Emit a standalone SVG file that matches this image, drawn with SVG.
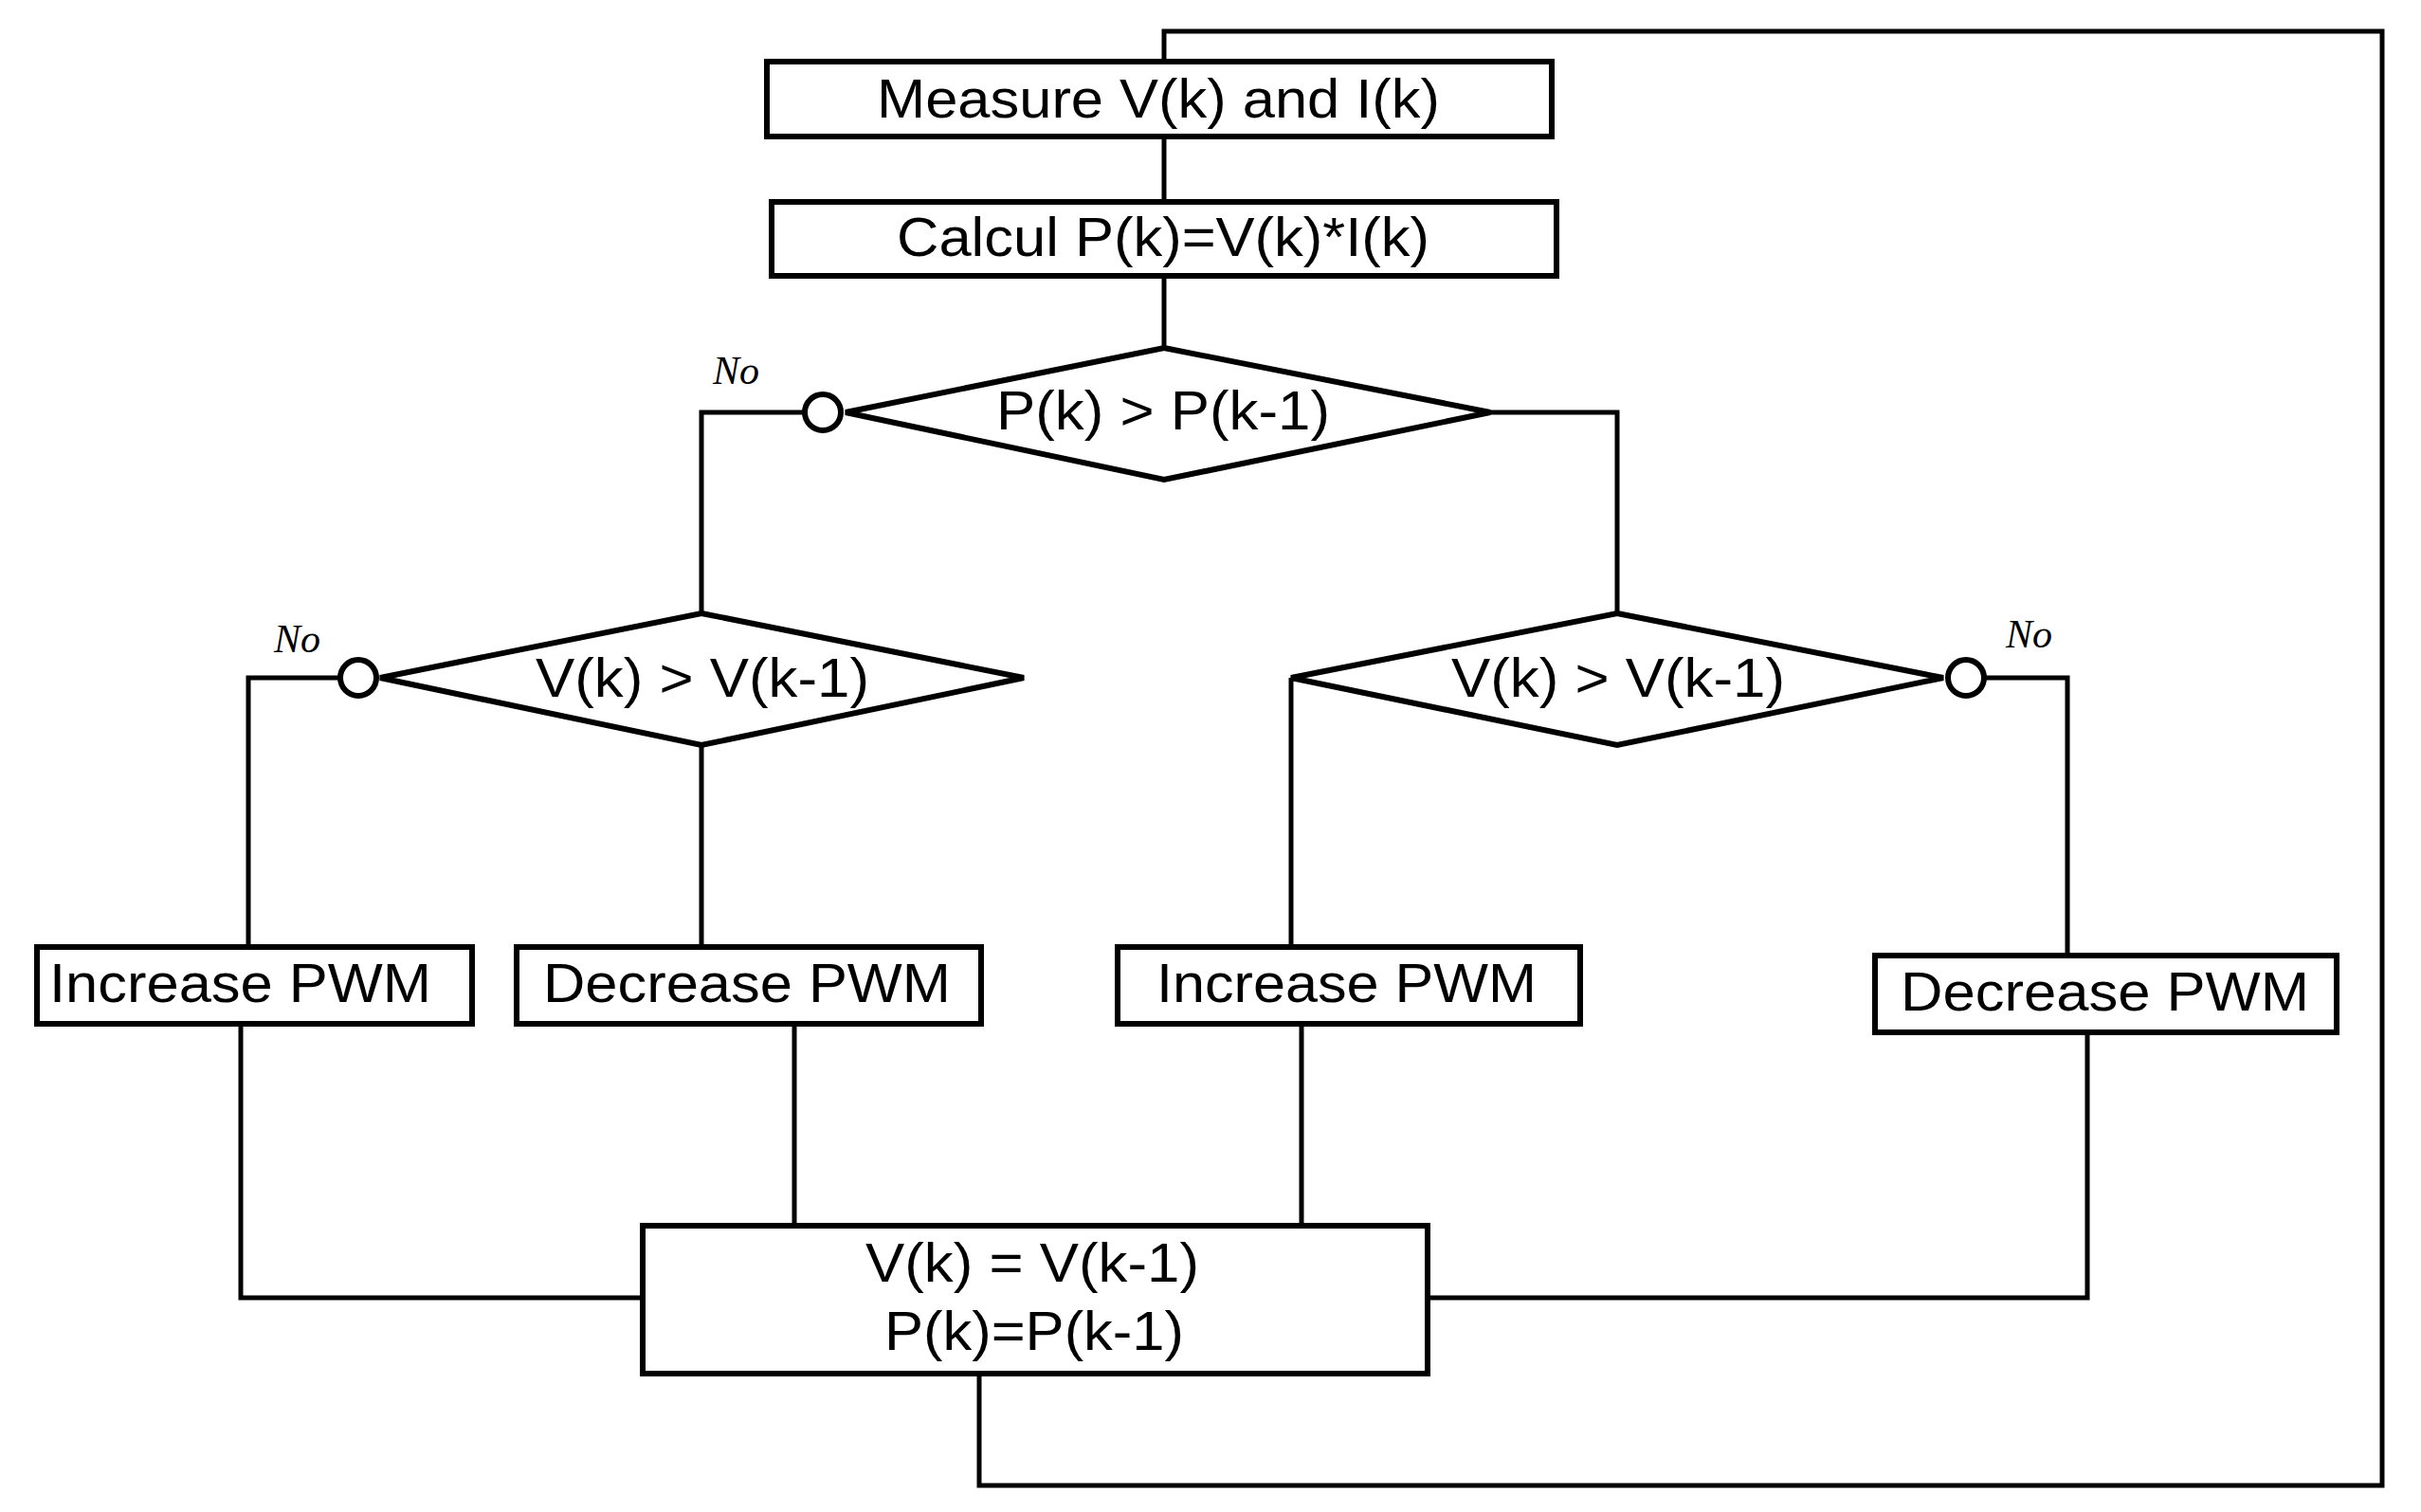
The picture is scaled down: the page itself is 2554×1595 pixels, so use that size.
<svg xmlns="http://www.w3.org/2000/svg" width="2554" height="1595" viewBox="0 0 2554 1595">
<style>
.s{fill:none;stroke:#000;stroke-width:5}
.b{fill:#fff;stroke:#000;stroke-width:6}
.t{font-family:"Liberation Sans",Arial,sans-serif;font-size:58px;fill:#000}
.n{font-family:"Liberation Serif","Times New Roman",serif;font-style:italic;font-size:42px;fill:#000}
</style>
<rect width="2554" height="1595" fill="#fff"/>
<g id="connectors">
<polyline class="s" points="1228,144 1228,213"/>
<polyline class="s" points="1228,291 1228,367"/>
<polyline class="s" points="1033,1449 1033,1567 2513,1567 2513,33 1228,33 1228,65"/>
<polyline class="s" points="848,435 740,435 740,647"/>
<polyline class="s" points="1572,435 1706,435 1706,647"/>
<polyline class="s" points="358,715 262,715 262,999"/>
<polyline class="s" points="740,786 740,999"/>
<polyline class="s" points="1362,715 1362,999"/>
<polyline class="s" points="2094,715 2181,715 2181,1007"/>
<polyline class="s" points="254,1080 254,1369 678,1369"/>
<polyline class="s" points="838,1080 838,1293"/>
<polyline class="s" points="1373,1080 1373,1293"/>
<polyline class="s" points="2202,1089 2202,1369 1506,1369"/>
</g>
<g id="measure"><rect class="b" x="809" y="65" width="828" height="79"/><text class="t" x="1222" y="124" text-anchor="middle" textLength="594" lengthAdjust="spacingAndGlyphs">Measure V(k) and I(k)</text></g>
<g id="calcul"><rect class="b" x="814" y="213" width="828" height="78"/><text class="t" x="1227" y="270" text-anchor="middle" textLength="562" lengthAdjust="spacingAndGlyphs">Calcul P(k)=V(k)*I(k)</text></g>
<g id="d1"><polygon class="b" points="1228,367 1572,435 1228,506 892,435"/><circle class="b" cx="868" cy="435" r="19"/><text class="t" x="1227" y="453" text-anchor="middle" textLength="352" lengthAdjust="spacingAndGlyphs">P(k) &gt; P(k-1)</text><text class="n" x="752" y="405">No</text></g>
<g id="d2"><polygon class="b" points="740,647 1080,715 740,786 401,715"/><circle class="b" cx="378" cy="715" r="19"/><text class="t" x="741" y="735" text-anchor="middle" textLength="352" lengthAdjust="spacingAndGlyphs">V(k) &gt; V(k-1)</text><text class="n" x="289" y="688">No</text></g>
<g id="d3"><polygon class="b" points="1706,647 2050,715 1706,786 1362,715"/><circle class="b" cx="2074" cy="715" r="19"/><text class="t" x="1707" y="735" text-anchor="middle" textLength="352" lengthAdjust="spacingAndGlyphs">V(k) &gt; V(k-1)</text><text class="n" x="2116" y="683">No</text></g>
<g id="inc1"><rect class="b" x="39" y="999" width="459" height="81"/><text class="t" x="52" y="1057" textLength="403" lengthAdjust="spacingAndGlyphs">Increase PWM</text></g>
<g id="dec1"><rect class="b" x="545" y="999" width="490" height="81"/><text class="t" x="573" y="1057" textLength="430" lengthAdjust="spacingAndGlyphs">Decrease PWM</text></g>
<g id="inc2"><rect class="b" x="1179" y="999" width="488" height="81"/><text class="t" x="1220" y="1057" textLength="401" lengthAdjust="spacingAndGlyphs">Increase PWM</text></g>
<g id="dec2"><rect class="b" x="1978" y="1008" width="487" height="81"/><text class="t" x="2005" y="1066" textLength="431" lengthAdjust="spacingAndGlyphs">Decrease PWM</text></g>
<g id="update"><rect class="b" x="678" y="1293" width="828" height="156"/><text class="t" x="1089" y="1352" text-anchor="middle" textLength="352" lengthAdjust="spacingAndGlyphs">V(k) = V(k-1)</text><text class="t" x="1091" y="1424" text-anchor="middle" textLength="316" lengthAdjust="spacingAndGlyphs">P(k)=P(k-1)</text></g>
</svg>
